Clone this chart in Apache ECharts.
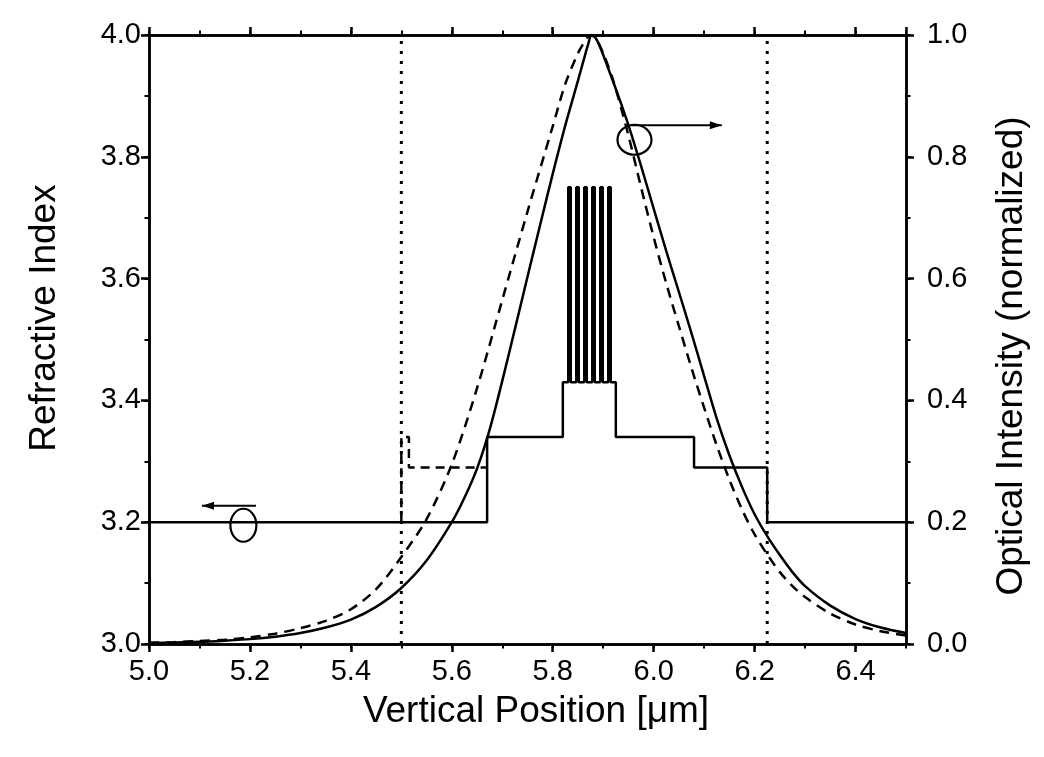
<!DOCTYPE html>
<html>
<head>
<meta charset="utf-8">
<script src="https://cdn.jsdelivr.net/npm/echarts@6/dist/echarts.min.js"></script>
<style>
html,body{margin:0;padding:0;background:#fff;}
#c{width:1044px;height:757px;}
</style>
</head>
<body>
<div id="c"></div>
<script>
// ---- data ----
const xTickLabels = ['5.0','5.2','5.4','5.6','5.8','6.0','6.2','6.4'];
const xTitle = 'Vertical Position [μm]';
const yLeftTitle = 'Refractive Index';
const yRightTitle = 'Optical Intensity (normalized)';
// refractive index layer profile (left axis): start position and index of each layer
const layerStart = [5.000, 5.670, 5.820, 5.8307, 5.8357, 5.8466, 5.8516, 5.8624, 5.8674, 5.8783, 5.8833, 5.8941, 5.8991, 5.9100, 5.9150, 5.925, 6.080, 6.225];
const layerIndex = [3.20, 3.34, 3.43, 3.75, 3.43, 3.75, 3.43, 3.75, 3.43, 3.75, 3.43, 3.75, 3.43, 3.75, 3.43, 3.34, 3.29, 3.20];
const profileEnd = 6.5;
// alternative (dashed) index profile segment
const altProfileX = [5.500, 5.500, 5.515, 5.515, 5.670];
const altProfileY = [3.20, 3.34, 3.34, 3.29, 3.29];
// dotted vertical markers
const dottedX = [5.5, 6.225];
// optical intensity (right axis), solid
const solidX = [5.00, 5.05, 5.10, 5.15, 5.20, 5.25, 5.30, 5.35, 5.40, 5.45, 5.50, 5.55, 5.60, 5.625, 5.65, 5.675, 5.70, 5.725, 5.75, 5.775, 5.80, 5.825, 5.85, 5.86, 5.87, 5.877, 5.885, 5.895, 5.91, 5.93, 5.95, 5.975, 6.00, 6.025, 6.05, 6.075, 6.10, 6.125, 6.15, 6.175, 6.20, 6.225, 6.25, 6.275, 6.30, 6.35, 6.40, 6.45, 6.50];
const solidY = [0.0015, 0.0025, 0.0035, 0.0055, 0.008, 0.012, 0.018, 0.027, 0.040, 0.061, 0.092, 0.137, 0.200, 0.240, 0.288, 0.352, 0.432, 0.517, 0.603, 0.688, 0.772, 0.852, 0.925, 0.955, 0.984, 1.000, 0.995, 0.978, 0.945, 0.900, 0.852, 0.785, 0.715, 0.645, 0.578, 0.510, 0.440, 0.370, 0.310, 0.258, 0.213, 0.177, 0.146, 0.118, 0.095, 0.063, 0.041, 0.027, 0.018];
// optical intensity (right axis), dashed
const dashX = [5.00, 5.05, 5.10, 5.15, 5.20, 5.25, 5.30, 5.35, 5.40, 5.45, 5.50, 5.55, 5.60, 5.65, 5.70, 5.75, 5.80, 5.825, 5.85, 5.86, 5.87, 5.875, 5.885, 5.90, 5.92, 5.95, 5.975, 6.00, 6.025, 6.05, 6.075, 6.10, 6.125, 6.15, 6.175, 6.20, 6.225, 6.25, 6.275, 6.30, 6.35, 6.40, 6.45, 6.50];
const dashY = [0.002, 0.003, 0.005, 0.007, 0.011, 0.017, 0.026, 0.038, 0.057, 0.090, 0.143, 0.205, 0.295, 0.420, 0.565, 0.710, 0.850, 0.920, 0.970, 0.985, 0.997, 1.000, 0.995, 0.970, 0.925, 0.835, 0.750, 0.668, 0.592, 0.522, 0.453, 0.388, 0.326, 0.270, 0.221, 0.180, 0.147, 0.118, 0.095, 0.077, 0.050, 0.032, 0.021, 0.014];
// annotation markers in data units
const leftMarker = {cx: 5.187, cy: 3.195, arrowY: 3.227, arrowFrom: 5.212, arrowTo: 5.105};
const rightMarker = {cx: 5.962, cy: 0.828, arrowY: 0.852, arrowFrom: 5.955, arrowTo: 6.135};

// ---- build ----
const profileData = [];
for (let i = 0; i < layerStart.length; i++) {
  const end = i + 1 < layerStart.length ? layerStart[i + 1] : profileEnd;
  profileData.push([layerStart[i], layerIndex[i]]);
  profileData.push([end, layerIndex[i]]);
}
const altData = altProfileX.map((x, i) => [x, altProfileY[i]]);
const solidData = solidX.map((x, i) => [x, solidY[i]]);
const dashData = dashX.map((x, i) => [x, dashY[i]]);

const FONT = '"Liberation Sans", Arial, Helvetica, sans-serif';
const black = '#000';
const axisW = 2.5;
const curveW = 2.5;
const titleSize = 37;

function axisBase(extra) {
  return Object.assign({
    type: 'value',
    axisLine: {show: true, onZero: false, lineStyle: {color: black, width: axisW}},
    axisTick: {show: true, inside: false, length: 8, lineStyle: {color: black, width: axisW}},
    axisLabel: {show: false},
    splitLine: {show: false}
  }, extra);
}
const minorTick = {show: true, inside: false, length: 4.5, lineStyle: {color: black, width: 2}};
const tickFmt = v => v.toFixed(1);
const labelStyle = {show: true, color: black, fontSize: 29, fontFamily: FONT, formatter: tickFmt};

const chart = echarts.init(document.getElementById('c'), null, {renderer: 'canvas'});
const option = {
  animation: false,
  backgroundColor: '#fff',
  grid: {left: 149, right: 138, top: 35, bottom: 113, containLabel: false},
  xAxis: [
    axisBase({position: 'bottom', min: 5, max: 6.5, interval: 0.2,
      axisLabel: Object.assign({}, labelStyle, {margin: 13, showMaxLabel: false})}),
    axisBase({position: 'bottom', min: 5, max: 6.5, interval: 0.1, axisTick: minorTick}),
    axisBase({position: 'top', min: 5, max: 6.5, interval: 0.2}),
    axisBase({position: 'top', min: 5, max: 6.5, interval: 0.1, axisTick: minorTick})
  ],
  yAxis: [
    axisBase({position: 'left', min: 3, max: 4, interval: 0.2,
      axisLabel: Object.assign({}, labelStyle, {margin: 8})}),
    axisBase({position: 'right', min: 0, max: 1, interval: 0.2,
      axisLabel: Object.assign({}, labelStyle, {margin: 21})}),
    axisBase({position: 'left', min: 3, max: 4, interval: 0.1, axisTick: minorTick}),
    axisBase({position: 'right', min: 0, max: 1, interval: 0.1, axisTick: minorTick})
  ],
  series: [
    {type: 'line', xAxisIndex: 0, yAxisIndex: 0, data: profileData, showSymbol: false, symbol: 'none',
      lineStyle: {color: black, width: curveW}, z: 3},
    {type: 'line', xAxisIndex: 0, yAxisIndex: 0, data: altData, showSymbol: false, symbol: 'none',
      lineStyle: {color: black, width: curveW, type: [9, 6]}, z: 3},
    ...dottedX.map(x => ({type: 'line', xAxisIndex: 0, yAxisIndex: 0, data: [[x, 3], [x, 4]], showSymbol: false, symbol: 'none',
      lineStyle: {color: black, width: 3, type: [3, 7]}, z: 2})),
    {type: 'line', xAxisIndex: 0, yAxisIndex: 1, data: solidData, showSymbol: false, symbol: 'none', smooth: 0.3,
      lineStyle: {color: black, width: curveW}, z: 4},
    {type: 'line', xAxisIndex: 0, yAxisIndex: 1, data: dashData, showSymbol: false, symbol: 'none', smooth: 0.3,
      lineStyle: {color: black, width: curveW, type: [10, 7]}, z: 4}
  ]
};
chart.setOption(option);

function px(x, y, yIdx) {
  return chart.convertToPixel({xAxisIndex: 0, yAxisIndex: yIdx}, [x, y]);
}
function marker(m, yIdx, dir) {
  const c = px(m.cx, m.cy, yIdx);
  const a0 = px(m.arrowFrom, m.arrowY, yIdx);
  const a1 = px(m.arrowTo, m.arrowY, yIdx);
  const head = dir < 0
    ? [[a1[0], a1[1]], [a1[0] + 12, a1[1] - 4], [a1[0] + 12, a1[1] + 4]]
    : [[a1[0], a1[1]], [a1[0] - 12, a1[1] - 4], [a1[0] - 12, a1[1] + 4]];
  return [
    {type: 'ellipse', shape: {cx: c[0], cy: c[1], rx: dir < 0 ? 13 : 17, ry: dir < 0 ? 16.5 : 15},
      style: {fill: null, stroke: black, lineWidth: 2.2}, z: 10},
    {type: 'polyline', shape: {points: [a0, a1]}, style: {stroke: black, lineWidth: 2, fill: null}, z: 10},
    {type: 'polygon', shape: {points: head}, style: {fill: black}, z: 10}
  ];
}
function title(text, x, y, rot) {
  return {type: 'text', x: x, y: y, rotation: rot, z: 10,
    style: {text: text, x: 0, y: 0, fill: black, fontSize: titleSize, fontFamily: FONT,
      align: 'center', verticalAlign: 'middle', textAlign: 'center', textVerticalAlign: 'middle'}};
}
chart.setOption({graphic: [
  ...marker(leftMarker, 0, -1), ...marker(rightMarker, 1, 1),
  title(xTitle, 536, 712, 0),
  title(yLeftTitle, 45, 318, Math.PI / 2),
  title(yRightTitle, 1012, 356, Math.PI / 2)
]});
</script>
</body>
</html>
